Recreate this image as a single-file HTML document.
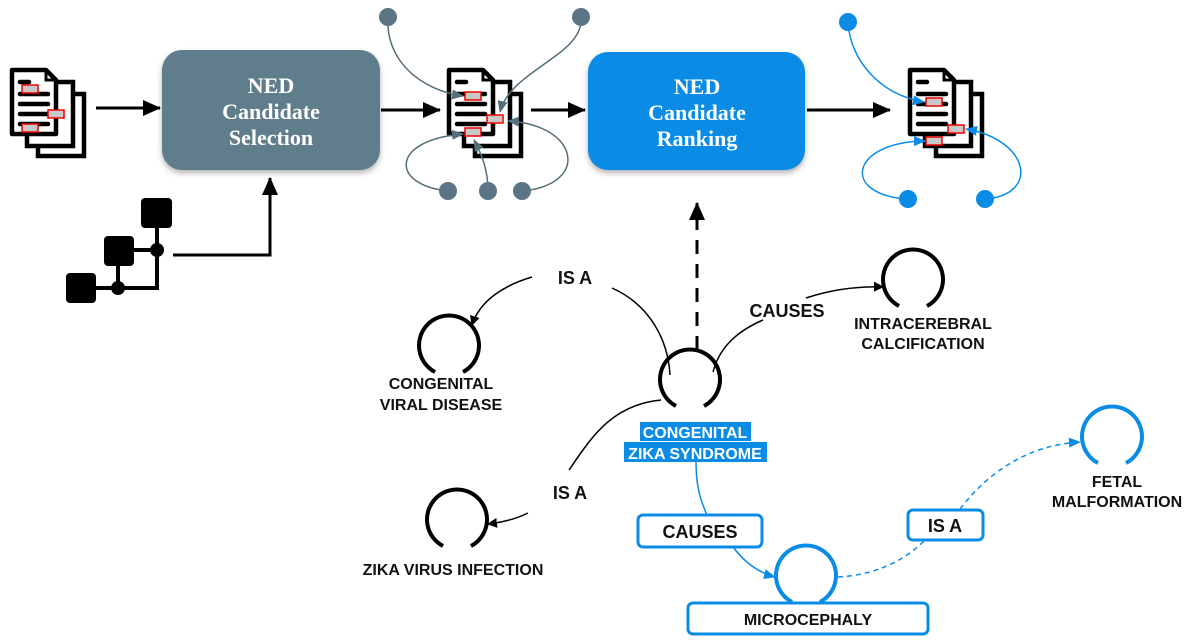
<!DOCTYPE html>
<html><head><meta charset="utf-8"><style>
html,body{margin:0;padding:0;background:#fff;width:1200px;height:641px;overflow:hidden}
svg{display:block}
.lbl{font-family:"Liberation Sans",sans-serif;font-weight:bold;fill:#111;text-anchor:middle}
.ned{font-family:"Liberation Serif",serif;font-weight:bold;fill:#fff;text-anchor:middle;font-size:22px}
</style></head><body>
<svg width="1200" height="641" viewBox="0 0 1200 641" xmlns="http://www.w3.org/2000/svg">
<defs>
<marker id="ak" markerWidth="10" markerHeight="10" refX="9" refY="5" orient="auto" markerUnits="userSpaceOnUse"><path d="M0,0 L10,5 L0,10 z" fill="#000"/></marker>
<marker id="akb" markerWidth="18" markerHeight="16" refX="17" refY="8" orient="auto" markerUnits="userSpaceOnUse"><path d="M0,0 L18,8 L0,16 z" fill="#000"/></marker>
<marker id="ag" markerWidth="12" markerHeight="10" refX="11" refY="5" orient="auto" markerUnits="userSpaceOnUse"><path d="M0,0 L12,5 L0,10 z" fill="#546e7a"/></marker>
<marker id="ab" markerWidth="12" markerHeight="10" refX="11" refY="5" orient="auto" markerUnits="userSpaceOnUse"><path d="M0,0 L12,5 L0,10 z" fill="#0a8ce6"/></marker>
<g id="doc">
 <rect x="26" y="24" width="46" height="62" fill="#fff" stroke="#000" stroke-width="4.5"/>
 <rect x="15" y="12" width="46" height="64" fill="#fff" stroke="#000" stroke-width="4.5"/>
 <path d="M0,0 L34,0 L44,10 L44,64 L0,64 Z" fill="#fff" stroke="#000" stroke-width="4.5" stroke-linejoin="round"/>
 <path d="M34,0 L34,10 L44,10" fill="none" stroke="#000" stroke-width="3"/>
 <g stroke="#000" stroke-width="4.5" stroke-linecap="round"><line x1="8" y1="12" x2="17" y2="12"/><line x1="8" y1="24" x2="36" y2="24"/><line x1="8" y1="34" x2="36" y2="34"/><line x1="8" y1="44" x2="36" y2="44"/><line x1="8" y1="54" x2="36" y2="54"/></g>
</g>
</defs>

<use href="#doc" x="12" y="70"/>
<g fill="#c8c8c8" stroke="#e00" stroke-width="1.5"><rect x="22" y="85" width="16" height="8"/><rect x="48" y="110" width="16" height="8"/><rect x="22" y="124" width="16" height="8"/></g>
<use href="#doc" x="449" y="70"/>
<g fill="#c8c8c8" stroke="#e00" stroke-width="1.5"><rect x="465" y="92" width="16" height="8"/><rect x="487" y="115" width="16" height="8"/><rect x="465" y="128" width="16" height="8"/></g>
<use href="#doc" x="910" y="70"/>
<g fill="#c8c8c8" stroke="#e00" stroke-width="1.5"><rect x="926" y="98" width="16" height="8"/><rect x="948" y="125" width="16" height="8"/><rect x="926" y="137" width="16" height="8"/></g>

<line x1="96" y1="108" x2="160" y2="108" stroke="#000" stroke-width="3" marker-end="url(#akb)"/>
<line x1="381" y1="110" x2="440" y2="110" stroke="#000" stroke-width="3" marker-end="url(#akb)"/>
<line x1="531" y1="110" x2="585" y2="110" stroke="#000" stroke-width="3" marker-end="url(#akb)"/>
<line x1="807" y1="110" x2="890" y2="110" stroke="#000" stroke-width="3" marker-end="url(#akb)"/>

<rect x="162" y="50" width="218" height="120" rx="20" fill="#607d8b" style="filter:drop-shadow(0 3px 3px rgba(0,0,0,.3))"/>
<text class="ned" x="271" y="93">NED</text><text class="ned" x="271" y="119">Candidate</text><text class="ned" x="271" y="145">Selection</text>
<rect x="588" y="52" width="217" height="118" rx="20" fill="#0a8ce6" style="filter:drop-shadow(0 3px 3px rgba(0,0,0,.3))"/>
<text class="ned" x="697" y="94">NED</text><text class="ned" x="697" y="120">Candidate</text><text class="ned" x="697" y="146">Ranking</text>

<g fill="none" stroke="#546e7a" stroke-width="1.5">
<path d="M388,17 C385,60 420,90 463,96" marker-end="url(#ag)"/>
<path d="M581,17 C585,55 510,70 500,112" marker-end="url(#ag)"/>
<path d="M448,191 C390,185 390,140 463,134" marker-end="url(#ag)"/>
<path d="M488,191 C488,170 482,155 474,140" marker-end="url(#ag)"/>
<path d="M522,191 C590,185 580,125 508,121" marker-end="url(#ag)"/>
</g>
<g fill="#5b7585"><circle cx="388" cy="17" r="9"/><circle cx="581" cy="17" r="9"/><circle cx="448" cy="191" r="9"/><circle cx="488" cy="191" r="9"/><circle cx="522" cy="191" r="9"/></g>

<g fill="none" stroke="#0a8ce6" stroke-width="1.5">
<path d="M848,22 C850,60 880,95 924,102" marker-end="url(#ab)"/>
<path d="M908,199 C840,195 850,142 925,141" marker-end="url(#ab)"/>
<path d="M985,199 C1040,195 1030,140 966,129" marker-end="url(#ab)"/>
</g>
<g fill="#0a8ce6"><circle cx="848" cy="22" r="9"/><circle cx="908" cy="199" r="9"/><circle cx="985" cy="199" r="9"/></g>

<g fill="#000">
<rect x="66" y="273" width="30" height="30" rx="4"/><rect x="104" y="236" width="30" height="30" rx="4"/><rect x="141" y="198" width="31" height="30" rx="4"/>
<circle cx="118" cy="288" r="7"/><circle cx="157" cy="250" r="7"/>
</g>
<g stroke="#000" stroke-width="4" fill="none"><path d="M96,288 H157 V228"/><line x1="118" y1="266" x2="118" y2="288"/><line x1="134" y1="250" x2="157" y2="250"/></g>
<path d="M173,255 H270 V178" fill="none" stroke="#000" stroke-width="3" marker-end="url(#akb)"/>

<line x1="697" y1="350" x2="697" y2="203" stroke="#000" stroke-width="3" stroke-dasharray="14,10" marker-end="url(#akb)"/>

<g fill="none" stroke="#000" stroke-width="4">
<path d="M435,372 A30,30 0 1 1 463,372"/>
<path d="M676,406 A30,30 0 1 1 704,406"/>
<path d="M899,306 A30,30 0 1 1 927,306"/>
<path d="M443,546 A30,30 0 1 1 471,546"/>
</g>
<g fill="none" stroke="#0a8ce6" stroke-width="4">
<path d="M792,602 A30,30 0 1 1 820,602"/>
<path d="M1098,463 A30,30 0 1 1 1126,463"/>
</g>

<g fill="none" stroke="#000" stroke-width="1.5">
<path d="M532,277 C505,285 480,300 472,325" marker-end="url(#ak)"/>
<path d="M612,288 C650,305 668,340 670,375"/>
<path d="M713,372 C720,345 740,330 763,320"/>
<path d="M806,298 C830,290 855,286 883,287" marker-end="url(#ak)"/>
<path d="M661,400 C610,405 590,440 569,470"/>
<path d="M528,513 C518,518 505,522 488,524" marker-end="url(#ak)"/>
</g>
<g fill="none" stroke="#0a8ce6" stroke-width="1.5">
<path d="M696,462 C696,485 700,500 707,515"/>
<path d="M733,547 C745,563 760,573 775,577" marker-end="url(#ab)"/>
<path d="M838,577 C870,575 900,565 925,540" stroke-dasharray="5,4"/>
<path d="M960,509 C990,470 1030,445 1080,442" stroke-dasharray="5,4" marker-end="url(#ab)"/>
</g>

<g class="lbl" font-size="16">
<text x="441" y="389">CONGENITAL</text><text x="441" y="410">VIRAL DISEASE</text>
<text x="923" y="329">INTRACEREBRAL</text><text x="923" y="349">CALCIFICATION</text>
<text x="453" y="575">ZIKA VIRUS INFECTION</text>
<text x="1117" y="487">FETAL</text><text x="1117" y="507">MALFORMATION</text>
</g>
<rect x="640" y="422" width="111" height="19" fill="#0a8ce6"/>
<rect x="624" y="442" width="143" height="20" fill="#0a8ce6"/>
<g class="lbl" font-size="16" style="fill:#fff"><text x="695" y="438">CONGENITAL</text><text x="695" y="459">ZIKA SYNDROME</text></g>

<g class="lbl" font-size="18">
<text x="575" y="284">IS A</text>
<text x="787" y="317">CAUSES</text>
<text x="570" y="499">IS A</text>
</g>
<g fill="#fff" stroke="#0a8ce6" stroke-width="3">
<rect x="638" y="515" width="124" height="32" rx="5"/>
<rect x="908" y="510" width="75" height="30" rx="5"/>
<rect x="688" y="603" width="240" height="31" rx="5"/>
</g>
<g class="lbl">
<text x="700" y="538" font-size="18">CAUSES</text>
<text x="945" y="532" font-size="18">IS A</text>
<text x="808" y="625" font-size="16">MICROCEPHALY</text>
</g>
</svg>
</body></html>
